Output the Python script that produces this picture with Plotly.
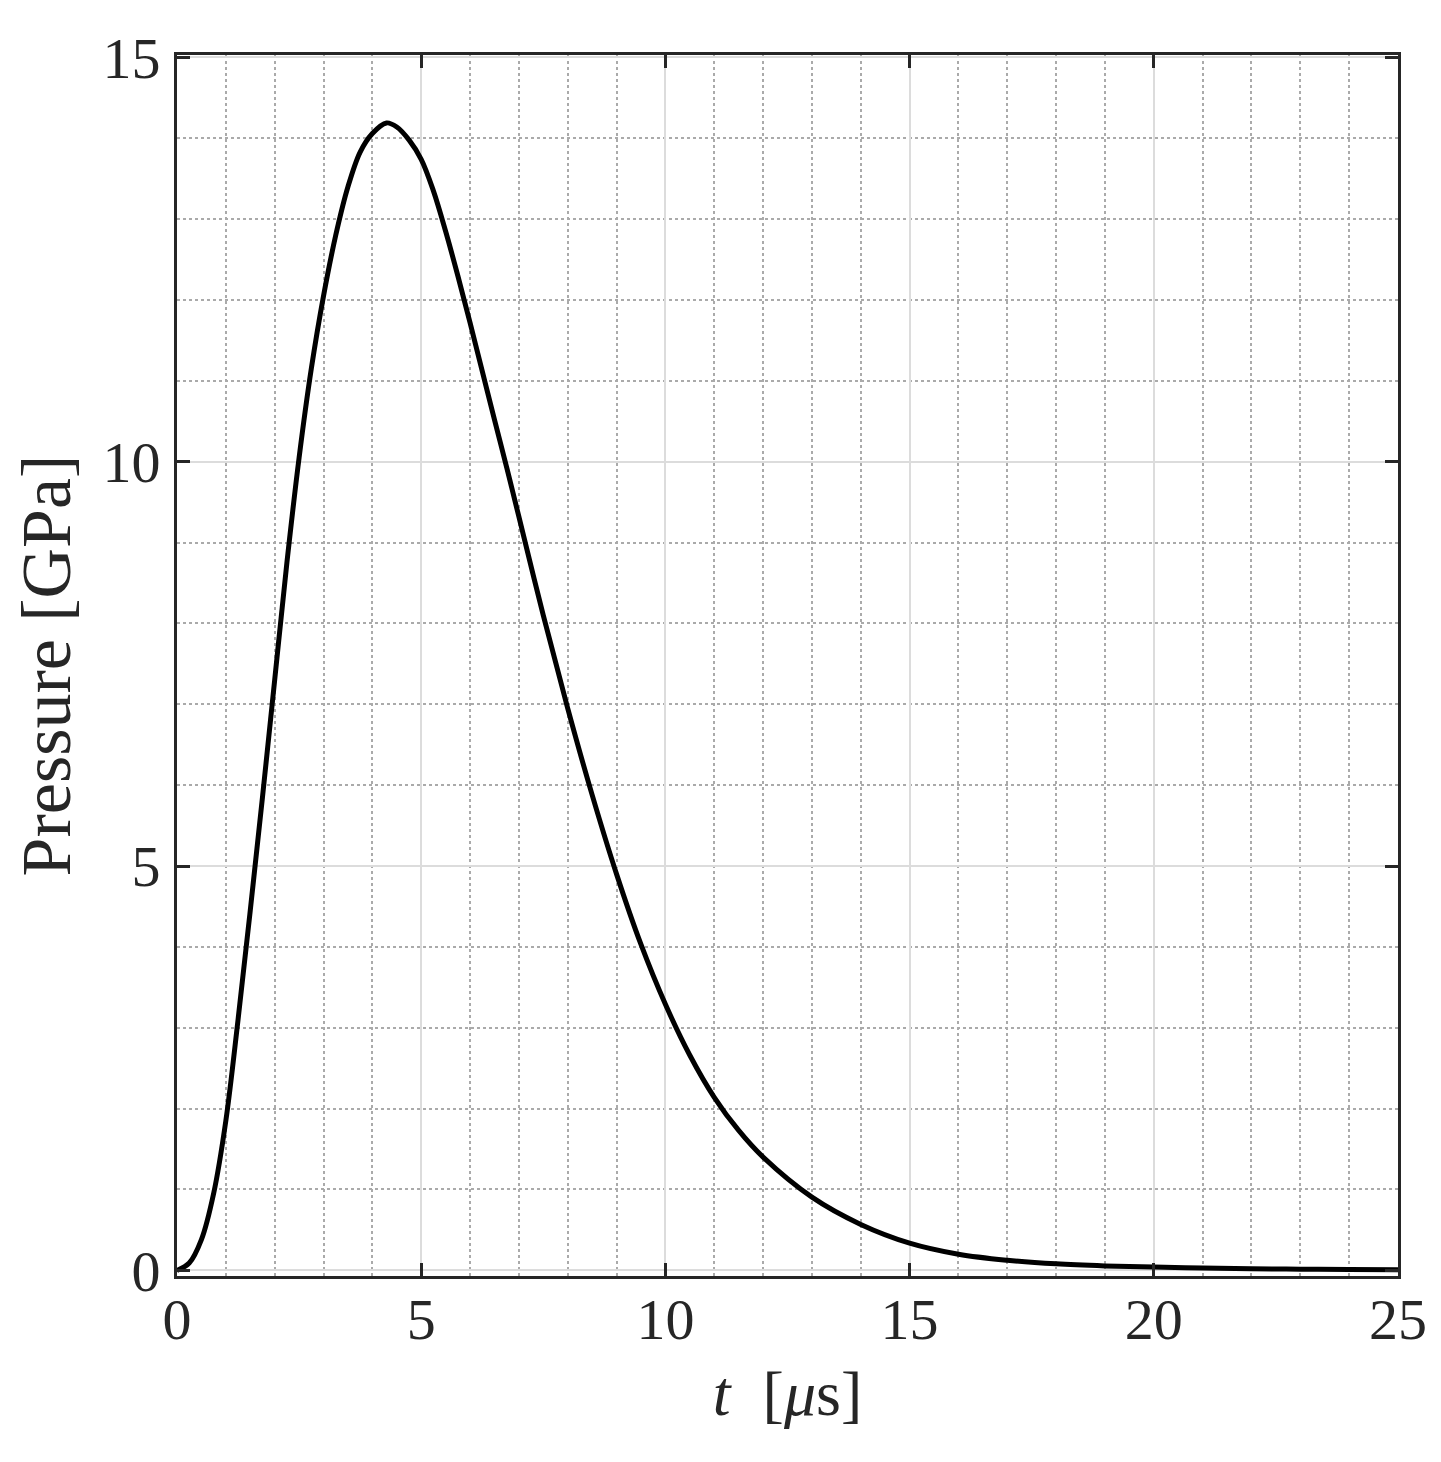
import plotly.graph_objects as go

# pressure pulse
t_us = [0.0, 0.25, 0.5, 0.75, 1.0, 1.25, 1.5, 1.75, 2.0, 2.25, 2.5, 2.75,
        3.0, 3.25, 3.5, 3.75, 4.0, 4.29, 4.5, 4.75, 5.0, 5.25, 5.5, 5.75,
        6.0, 6.25, 6.5, 6.75, 7.0, 7.5, 8.0, 8.5, 9.0, 9.5, 10.0, 10.5,
        11.0, 11.5, 12.0, 13.0, 14.0, 15.0, 16.0, 17.0, 18.0, 19.0, 20.0,
        21.0, 22.0, 23.0, 24.0, 25.0]
p_gpa = [0.0, 0.09, 0.38, 0.95, 1.85, 3.1, 4.45, 5.85, 7.3, 8.75, 10.05, 11.15,
         12.05, 12.8, 13.4, 13.83, 14.06, 14.19, 14.14, 13.98, 13.74, 13.35, 12.85, 12.3,
         11.72, 11.12, 10.52, 9.93, 9.32, 8.1, 6.95, 5.88, 4.9, 4.03, 3.29, 2.66,
         2.14, 1.73, 1.40, 0.905, 0.568, 0.337, 0.20, 0.125, 0.08, 0.055, 0.04,
         0.03, 0.02, 0.015, 0.01, 0.008]

x_ticks = [0, 5, 10, 15, 20, 25]
y_ticks = [0, 5, 10, 15]

font_family = "Liberation Serif"
axis_color = "#262626"

fig = go.Figure()
fig.add_trace(go.Scatter(x=t_us, y=p_gpa, mode="lines",
                         line=dict(color="black", width=5, shape="spline", smoothing=1.0),
                         showlegend=False))

common = dict(showline=True, linecolor=axis_color, linewidth=3, mirror="ticks",
              ticks="inside", ticklen=13, tickwidth=3, tickcolor=axis_color,
              showgrid=True, gridcolor="#dcdcdc", gridwidth=2, zeroline=False,
              tickfont=dict(family=font_family, size=58, color="#262626"),
              minor=dict(dtick=1, showgrid=True, gridcolor="#aaaaaa", griddash="dot",
                         gridwidth=2, ticks=""))

fig.update_xaxes(range=[0, 25], tickvals=x_ticks, ticklabelstandoff=-10,
                 title=dict(text="<i>t</i>  [<i>μ</i>s]", standoff=20,
                            font=dict(family=font_family, size=64, color="#262626")),
                 **common)
fig.update_yaxes(range=[-0.07, 15.03], tickvals=y_ticks, ticklabelstandoff=2,
                 title=dict(text="Pressure [GPa]", standoff=15,
                            font=dict(family=font_family, size=70, color="#262626")),
                 **common)

fig.update_layout(width=1441, height=1462, plot_bgcolor="white", paper_bgcolor="white",
                  margin=dict(l=169, r=51, t=47, b=194))

fig.write_html("out.html")
